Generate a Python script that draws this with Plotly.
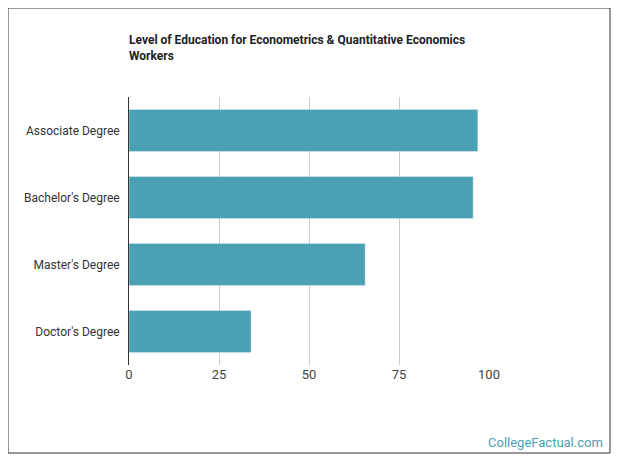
import plotly.graph_objects as go

# data
categories = ["Associate Degree", "Bachelor's Degree", "Master's Degree", "Doctor's Degree"]
values = [96.9, 95.6, 65.6, 33.9]
tick_vals = [0, 25, 50, 75, 100]

# page body adds an 8px offset, so the figure is drawn 16px smaller
W, H = 604, 449
L, T, PW, PH = 121, 89, 360, 268

fig = go.Figure()
fig.add_trace(go.Bar(
    x=values, y=categories, orientation="h",
    marker=dict(color="#4aa1b3"), width=0.63,
))

fig.update_layout(
    width=W, height=H,
    margin=dict(l=L, r=W - L - PW, t=T, b=H - T - PH),
    paper_bgcolor="white", plot_bgcolor="white",
    font=dict(family="Roboto", size=12, color="#333"),
    showlegend=False,
    title=dict(
        text="<b>Level of Education for Econometrics & Quantitative Economics<br>Workers</b>",
        x=L / W, xanchor="left", y=1 - 36 / H, yanchor="top",
        font=dict(size=12, color="#222"),
    ),
    xaxis=dict(range=[0, 100], tickvals=tick_vals, showgrid=True, gridcolor="#cccccc",
               zeroline=False, ticks="", tickfont=dict(size=13, color="#444")),
    yaxis=dict(categoryorder="array", categoryarray=categories[::-1], showline=True,
               linecolor="#333", linewidth=1, ticks="", ticksuffix="  ",
               tickfont=dict(size=12, color="#333")),
    shapes=[dict(type="rect", xref="paper", yref="paper",
                 x0=-L / PW, x1=(602 - L) / PW, y0=-(445 - T - PH) / PH, y1=1 + T / PH,
                 line=dict(color="#333", width=1))],
    annotations=[dict(text="CollegeFactual.com", xref="paper", yref="paper",
                      x=(597 - L) / PW, y=-(434 - T - PH) / PH, xanchor="right", yanchor="middle",
                      showarrow=False, font=dict(size=13, color="#4aa1b3"))],
)

fig.write_html("out.html")
